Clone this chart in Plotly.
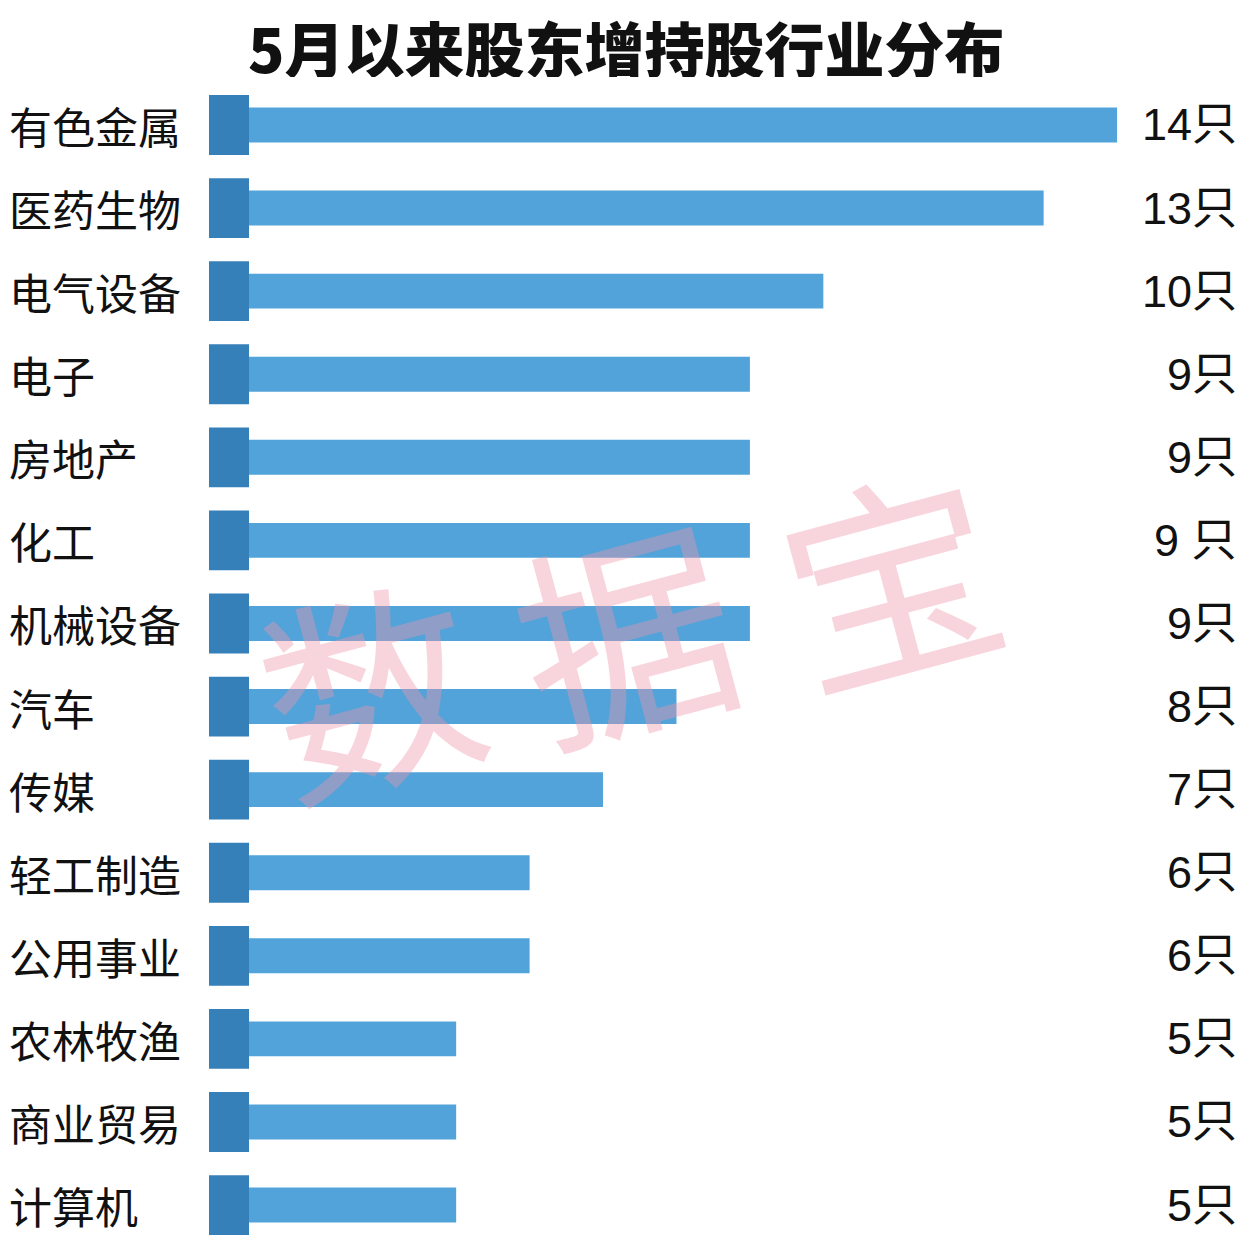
import plotly.graph_objects as go

categories = ["有色金属", "医药生物", "电气设备", "电子", "房地产", "化工", "机械设备",
              "汽车", "传媒", "轻工制造", "公用事业", "农林牧渔", "商业贸易", "计算机"]
counts = [14, 13, 10, 9, 9, 9, 9, 8, 7, 6, 6, 5, 5, 5]
value_labels = ["14只", "13只", "10只", "9只", "9只", "9 只", "9只", "8只", "7只",
                "6只", "6只", "5只", "5只", "5只"]
title_text = "5月以来股东增持股行业分布"
watermark_chars = ["数", "据", "宝"]

FONT = "Noto Sans CJK SC"
W, H = 1253, 1245
BAR_START = 2.0
BLOCK_START = 1.634
BLOCK_LEN = 0.545

fig = go.Figure()
fig.add_trace(go.Bar(
    y=categories, x=[c - BAR_START for c in counts], base=BAR_START,
    orientation="h", width=0.42, marker=dict(color="#52A3DA", line=dict(width=0)),
    hoverinfo="skip", showlegend=False))
fig.add_trace(go.Bar(
    y=categories, x=[BLOCK_LEN] * len(categories), base=BLOCK_START,
    orientation="h", width=0.72, marker=dict(color="#3680BA", line=dict(width=0)),
    hoverinfo="skip", showlegend=False))

annotations = []
for cat, lab in zip(categories, value_labels):
    annotations.append(dict(x=-0.001, xref="paper", y=cat, yref="y", text=cat,
                            xanchor="left", yanchor="middle", showarrow=False,
                            font=dict(family=FONT, size=43, color="#111111")))
    annotations.append(dict(x=1231 / W, xref="paper", y=cat, yref="y", text=lab,
                            xanchor="right", yanchor="middle", showarrow=False,
                            font=dict(family="Liberation Sans, " + FONT, size=45, color="#111111")))
annotations.append(dict(x=618 / W, xref="paper", y=1 - 38 / H, yref="paper", text=title_text,
                        xanchor="center", yanchor="middle", showarrow=False,
                        height=62, valign="middle",
                        font=dict(family=FONT, size=60, color="#111111", weight=900)))
wm_pos = [(360, 672), (615, 617), (880, 562)]
for ch, (px, py) in zip(watermark_chars, wm_pos):
    annotations.append(dict(x=px / W, xref="paper", y=1 - py / H, yref="paper", text=ch,
                            xanchor="center", yanchor="middle", showarrow=False, textangle=-15,
                            font=dict(family=FONT, size=215, color="rgba(238,150,170,0.4)")))

fig.update_layout(
    width=W, height=H, margin=dict(l=0, r=0, t=0, b=0),
    paper_bgcolor="white", plot_bgcolor="white", barmode="overlay",
    xaxis=dict(range=[-1.103, 15.96], visible=False, fixedrange=True),
    yaxis=dict(type="category", range=[13.577, -1.408], visible=False, fixedrange=True),
    annotations=annotations,
)
fig.write_html("out.html")
